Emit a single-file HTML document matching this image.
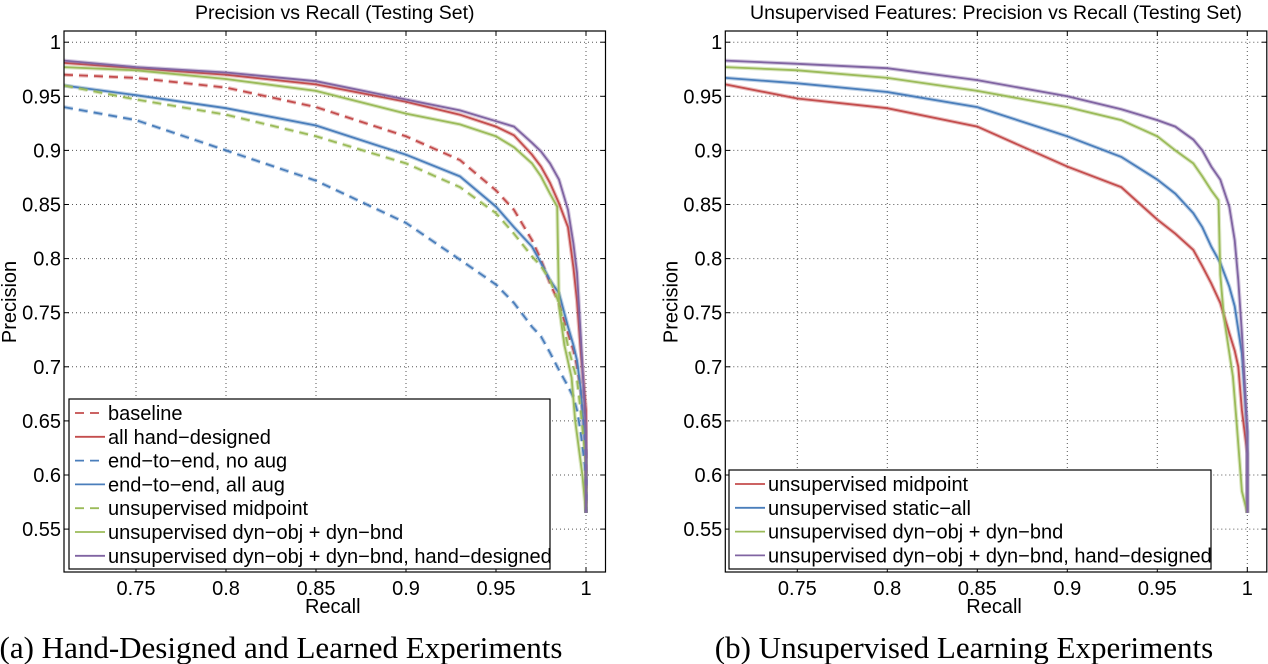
<!DOCTYPE html>
<html><head><meta charset="utf-8">
<style>
body{margin:0;background:#fff;width:1268px;height:664px;overflow:hidden;font-family:"Liberation Sans",sans-serif}
svg{position:absolute;left:0;top:0}
</style></head>
<body>
<svg id="chart" width="1268" height="664"></svg>
<script>
const ticksX=[0.75,0.8,0.85,0.9,0.95,1];
const ticksY=[0.55,0.6,0.65,0.7,0.75,0.8,0.85,0.9,0.95,1];
const tickLabelsX=["0.75","0.8","0.85","0.9","0.95","1"];
const tickLabelsY=["0.55","0.6","0.65","0.7","0.75","0.8","0.85","0.9","0.95","1"];
const recallL=[0.71,0.75,0.8,0.85,0.9,0.93,0.95,0.96,0.97,0.975,0.98,0.985,0.99,0.993,0.995,0.997,1.0,1.0];
const baseline=[0.970,0.967,0.958,0.940,0.913,0.891,0.863,0.845,0.817,0.799,0.777,0.759,0.731,0.715,0.700,0.680,0.620,0.565];
const allHand=[0.981,0.976,0.970,0.961,0.945,0.933,0.922,0.914,0.896,0.885,0.870,0.851,0.829,0.792,0.761,0.716,0.660,0.565];
const e2eNoAug=[0.940,0.928,0.900,0.872,0.833,0.799,0.776,0.759,0.737,0.728,0.713,0.697,0.682,0.672,0.660,0.640,0.600,0.565];
const e2eAllAug=[0.960,0.951,0.939,0.923,0.896,0.876,0.848,0.829,0.811,0.796,0.780,0.768,0.737,0.720,0.706,0.680,0.620,0.565];
const unsupMidL=[0.960,0.947,0.933,0.913,0.888,0.866,0.842,0.823,0.802,0.793,0.780,0.759,0.719,0.700,0.688,0.660,0.610,0.565];
const recallDynL=[0.71,0.75,0.8,0.85,0.9,0.93,0.95,0.96,0.97,0.975,0.98,0.984,0.985,0.988,0.992,0.994,0.998,1.0];
const unsupDynL=[0.977,0.974,0.966,0.955,0.934,0.924,0.913,0.903,0.888,0.876,0.860,0.848,0.756,0.720,0.690,0.650,0.600,0.565];
const unsupDynHandL=[0.983,0.977,0.972,0.964,0.947,0.937,0.927,0.922,0.907,0.899,0.888,0.873,0.845,0.814,0.787,0.731,0.640,0.565];
const recallR=[0.71,0.75,0.8,0.85,0.9,0.93,0.95,0.96,0.97,0.975,0.98,0.985,0.99,0.993,0.995,0.997,1.0,1.0];
const unsupMidR=[0.961,0.948,0.939,0.922,0.885,0.866,0.836,0.823,0.808,0.793,0.777,0.759,0.731,0.715,0.700,0.660,0.620,0.565];
const staticAllR=[0.967,0.962,0.954,0.940,0.913,0.894,0.873,0.860,0.842,0.829,0.811,0.796,0.774,0.756,0.734,0.712,0.640,0.565];
const recallDynR=[0.71,0.75,0.8,0.85,0.9,0.93,0.95,0.96,0.97,0.975,0.98,0.984,0.985,0.987,0.992,0.994,0.997,1.0];
const dynR=[0.977,0.974,0.967,0.955,0.940,0.928,0.913,0.900,0.888,0.876,0.863,0.854,0.785,0.746,0.691,0.650,0.585,0.565];
const dynHandR=[0.983,0.980,0.976,0.965,0.950,0.938,0.928,0.922,0.910,0.900,0.885,0.873,0.848,0.817,0.780,0.731,0.640,0.565];

const NS="http://www.w3.org/2000/svg";
const svg=document.getElementById('chart');
function mk(tag,attrs,parent){const e=document.createElementNS(NS,tag);for(const k in attrs)e.setAttribute(k,attrs[k]);(parent||svg).appendChild(e);return e;}
const RED="#c44d4d",BLUE="#4a7ebb",GREEN="#9bbb59",PURPLE="#8064a2";

function panel(x0,title,series,legend){
  const W=541.5,top=31,bot=572;
  const sx=r=>x0+(r-0.71)*1800;
  const sy=p=>42.2+(1-p)*1082;
  const g=mk('g',{});
  
  
  ticksX.forEach((t,i)=>{const x=sx(t);
    const l=mk('line',{x1:x,x2:x,y1:top,y2:bot,stroke:"#555","stroke-width":1,"stroke-dasharray":"1,3"},g);
    
    
    mk('line',{x1:x,x2:x,y1:bot,y2:bot-5,stroke:"#000"},g);mk('line',{x1:x,x2:x,y1:top,y2:top+5,stroke:"#000"},g);
    const tx=mk('text',{x:x,y:bot+23,"font-size":20,"text-anchor":"middle"},g);tx.textContent=tickLabelsX[i];
    
    });
  ticksY.forEach((t,i)=>{const y=sy(t);
    const l=mk('line',{x1:x0,x2:x0+W,y1:y,y2:y,stroke:"#555","stroke-width":1,"stroke-dasharray":"1,3"},g);
    
    
    mk('line',{x1:x0,x2:x0+5,y1:y,y2:y,stroke:"#000"},g);mk('line',{x1:x0+W,x2:x0+W-5,y1:y,y2:y,stroke:"#000"},g);
    const tx=mk('text',{x:x0-3,y:y+7,"font-size":20,"text-anchor":"end"},g);tx.textContent=tickLabelsY[i];
    
    });
  const clip=mk('clipPath',{id:'c'+Math.round(x0)},g);mk('rect',{x:x0,y:top,width:W,height:bot-top},clip);
  series.forEach(s=>{
    const pts=s.r.map((r,i)=>sx(r).toFixed(1)+","+sy(s.v[i]).toFixed(1)).join(" ");
    mk('polyline',{points:pts,fill:"none",stroke:s.c,"stroke-opacity":0.35,"stroke-width":4,"stroke-dasharray":s.d?"9,6":"none","clip-path":`url(#c${Math.round(x0)})`},g);
    const pl=mk('polyline',{points:pts,fill:"none",stroke:s.c,"stroke-width":1.8,"stroke-dasharray":s.d?"9,6":"none","clip-path":`url(#c${Math.round(x0)})`},g);
    
    
  });
  const ax=mk('rect',{x:x0,y:top,width:W,height:bot-top,fill:"none",stroke:"#000","stroke-width":1.2},g);
  
  
  const tt=mk('text',{x:x0+W/2,y:19,"font-size":19.5,"text-anchor":"middle"},g);tt.textContent=title;
  
  
  const xl=mk('text',{x:x0+W/2-2,y:613,"font-size":20,"text-anchor":"middle"},g);xl.textContent="Recall";
  
  
  const yl=mk('text',{x:0,y:0,"font-size":20,"text-anchor":"middle",transform:`translate(${x0-48},302) rotate(-90)`},g);yl.textContent="Precision";
  
  
  const lg=mk('g',{},g);
  
  
  mk('rect',{x:legend.x,y:legend.y,width:legend.w,height:legend.h,fill:"#fff",stroke:"#000","stroke-width":1.2},lg);
  legend.items.forEach((s,i)=>{const y=legend.y+14+i*23.8;
    mk('line',{x1:legend.x+6,x2:legend.x+36,y1:y,y2:y,stroke:s.c,"stroke-width":1.8,"stroke-dasharray":s.d?"9,6":"none"},lg);
    const t=mk('text',{x:legend.x+39,y:y+7,"font-size":20},lg);t.textContent=s.label;
    
    });
}
const L=[
 {name:'baseline-line',label:'baseline',r:recallL,v:baseline,c:RED,d:1},
 {name:'all-hand-designed-line',label:'all hand\u2212designed',r:recallL,v:allHand,c:RED},
 {name:'end-to-end-no-aug-line',label:'end\u2212to\u2212end, no aug',r:recallL,v:e2eNoAug,c:BLUE,d:1},
 {name:'end-to-end-all-aug-line',label:'end\u2212to\u2212end, all aug',r:recallL,v:e2eAllAug,c:BLUE},
 {name:'unsupervised-midpoint-line',label:'unsupervised midpoint',r:recallL,v:unsupMidL,c:GREEN,d:1},
 {name:'unsupervised-dyn-line',label:'unsupervised dyn\u2212obj + dyn\u2212bnd',r:recallDynL,v:unsupDynL,c:GREEN},
 {name:'unsupervised-dyn-hand-line',label:'unsupervised dyn\u2212obj + dyn\u2212bnd, hand\u2212designed',r:recallL,v:unsupDynHandL,c:PURPLE}];
panel(64,"Precision vs Recall (Testing Set)",L,{x:69,y:399,w:481,h:170,items:L});
const R=[
 {name:'unsupervised-midpoint-line',label:'unsupervised midpoint',r:recallR,v:unsupMidR,c:RED},
 {name:'unsupervised-static-all-line',label:'unsupervised static\u2212all',r:recallR,v:staticAllR,c:BLUE},
 {name:'unsupervised-dyn-line',label:'unsupervised dyn\u2212obj + dyn\u2212bnd',r:recallDynR,v:dynR,c:GREEN},
 {name:'unsupervised-dyn-hand-line',label:'unsupervised dyn\u2212obj + dyn\u2212bnd, hand\u2212designed',r:recallR,v:dynHandR,c:PURPLE}];
panel(725.3,"Unsupervised Features: Precision vs Recall (Testing Set)",R,{x:729,y:470,w:482,h:99,items:R});
const c1=mk('text',{x:281,y:658,"font-size":31,"text-anchor":"middle","font-family":"Liberation Serif, serif"});c1.textContent="(a) Hand-Designed and Learned Experiments";


const c2=mk('text',{x:964,y:658,"font-size":31,"text-anchor":"middle","font-family":"Liberation Serif, serif"});c2.textContent="(b) Unsupervised Learning Experiments";


</script>
</body></html>
